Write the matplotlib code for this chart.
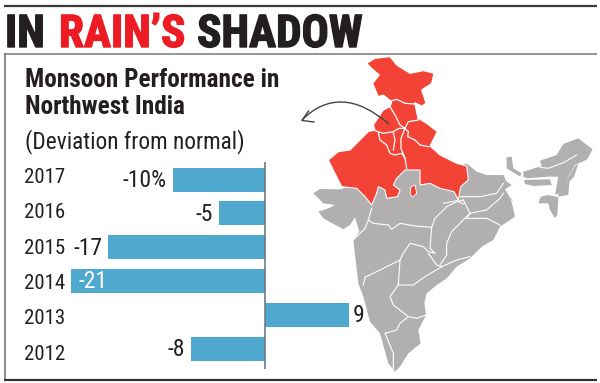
import matplotlib
matplotlib.use("Agg")
import matplotlib.pyplot as plt
import matplotlib.patheffects as pe
from matplotlib.patches import Polygon, PathPatch
from matplotlib.path import Path

# ---- chart data ----
years = ["2017", "2016", "2015", "2014", "2013", "2012"]
deviation = [-10, -5, -17, -21, 9, -8]
value_labels = ["-10%", "-5", "-17", "-21", "9", "-8"]

W, H = 600, 383
COND = ["Roboto Condensed", "DejaVu Sans"]
BLACK = "#231F20"
TITLE_RED = "#ED1C24"
MAP_RED = "#F24336"
MAP_GREY = "#B1AFB0"
BAR = "#4FA8CE"

fig = plt.figure(figsize=(W / 100, H / 100), dpi=100, facecolor="white")

px = fig.add_axes([0, 0, 1, 1])
px.set_xlim(0, W)
px.set_ylim(H, 0)
px.axis("off")

SCALE, ZERO = 9.25, 265.5
STEP, FIRST = 33.8, 179.6
ax = fig.add_axes([0, 0, 1, 1], facecolor="none")
ax.set_xlim(-ZERO / SCALE, (W - ZERO) / SCALE)
ax.set_ylim((H - FIRST) / STEP, -FIRST / STEP)
ax.axis("off")
ax.barh(range(len(years)), deviation, height=24 / STEP, color=BAR, zorder=2)
ax.vlines(0, (162 - FIRST) / STEP, (369 - FIRST) / STEP, color="#6E7B82", lw=1.2, zorder=3)

for i, (v, lab) in enumerate(zip(deviation, value_labels)):
    if v == -21:
        xt, ha, col = 7, "left", "white"
    elif v > 0:
        xt, ha, col = 4, "left", BLACK
    else:
        xt, ha, col = -6, "right", BLACK
    ax.annotate(lab, (v, i), xytext=(xt * 0.72, -1 * 0.72), textcoords="offset points",
                ha=ha, va="center", fontsize=17, color=col, family=COND, zorder=4)

for i, y in enumerate(years):
    px.text(24, 183 + 35.3 * i, y, fontsize=15, color=BLACK, family=COND, va="baseline", ha="left")

px.plot([4, 597], [5.5, 5.5], color="#3A3A3A", lw=1.6, solid_capstyle="butt")
px.plot([4, 597], [53.5, 53.5], color="#8C8C8C", lw=1.3, solid_capstyle="butt")
px.plot([4.5, 4.5], [53, 379], color="#777777", lw=1.2, solid_capstyle="butt")
px.plot([4, 597], [379.5, 379.5], color="#333333", lw=1.6, solid_capstyle="butt")

for s, x, col in [("IN", 5, BLACK), ("RAIN’S", 59, TITLE_RED), ("SHADOW", 197, BLACK)]:
    t = px.text(x, 47, s, fontsize=32.5, fontweight="bold", color=col, family=COND, va="baseline", ha="left")
    t.set_path_effects([pe.withStroke(linewidth=1.0, foreground=col)])

for s, y in [("Monsoon Performance in", 87), ("Northwest India", 114)]:
    px.text(25, y, s, fontsize=18.2, fontweight="bold", color=BLACK, family=COND, va="baseline", ha="left")
px.text(25, 148, "(Deviation from normal)", fontsize=16.8, color=BLACK, family=COND, va="baseline", ha="left")


def z2(pts):
    return [(300 + x / 3, 40 + y / 3) for x, y in pts]

def z3(pts):
    return [(300 + x / 3, 190 + y / 3) for x, y in pts]

def z4(pts):
    return [(325 + x / 3, 90 + y / 3) for x, y in pts]

mainland = z2([(40, 460), (60, 447), (120, 448), (150, 440), (200, 380), (320, 380), (420, 400), (500, 370),
               (530, 395), (560, 405), (610, 405), (620, 425), (635, 435), (615, 448), (640, 490)]) + \
    z3([(630, 15), (645, 80), (600, 110), (580, 150), (545, 170), (510, 205), (470, 230), (440, 265),
        (410, 285), (380, 310), (373, 340), (378, 375), (355, 420), (362, 460), (325, 490),
        (300, 530), (285, 545), (265, 520), (240, 430), (210, 395), (190, 320), (175, 280),
        (160, 150), (178, 125), (165, 82), (150, 105), (130, 118), (70, 85), (55, 65), (85, 55),
        (105, 45), (70, 40)])
ne_arunachal_assam = z2([(670, 395), (725, 378), (720, 362), (770, 345), (790, 312), (835, 295), (878, 328),
                         (862, 358), (825, 375), (810, 400), (800, 420), (775, 460), (765, 465), (775, 410),
                         (745, 410), (680, 415), (670, 410)])
ne_meghalaya = z2([(672, 420), (750, 418), (755, 435), (700, 438), (675, 432)])
ne_east = z2([(812, 400), (825, 378), (835, 372), (822, 410), (808, 425), (805, 465), (775, 470), (775, 440), (800, 420)])
ne_south = z2([(745, 465), (775, 472), (772, 525), (765, 535), (750, 510), (745, 490), (715, 490), (722, 470)])
sikkim = z2([(620, 352), (635, 350), (640, 385), (665, 400), (660, 410), (620, 385)])
for poly in (mainland, ne_arunachal_assam, ne_meghalaya, ne_east, ne_south, sikkim):
    px.add_patch(Polygon(poly, closed=True, fc=MAP_GREY, ec="none", zorder=1))

red_region = z2([(200, 70), (225, 55), (270, 50), (290, 75), (330, 100), (370, 92), (402, 100), (395, 130),
                 (365, 150), (378, 190), (365, 198), (345, 188), (355, 235), (380, 250), (412, 275),
                 (390, 318), (420, 345), (470, 370), (500, 378), (505, 420), (482, 440), (475, 480),
                 (462, 455), (420, 445), (390, 430), (360, 435)]) + \
    z4([(285, 240), (240, 240), (215, 265), (205, 285), (225, 300), (218, 320), (185, 325), (180, 300),
        (160, 290), (155, 310), (140, 345), (120, 320), (95, 295), (50, 290), (30, 250), (10, 210),
        (40, 185), (75, 180), (130, 125), (150, 120), (145, 105), (175, 60), (195, 50), (200, 35),
        (175, 15), (160, 20)]) + \
    z2([(218, 130), (238, 105), (215, 85)])
px.add_patch(Polygon(red_region, closed=True, fc=MAP_RED, ec="white", lw=0.8, joinstyle="round", zorder=2))
px.add_patch(Polygon(z4([(258, 290), (270, 285), (275, 310), (262, 322), (255, 310)]), closed=True,
                     fc=MAP_RED, ec="white", lw=0.6, zorder=2))

red_borders = [
    [(195, 50), (200, 32), (215, 28), (240, 40), (270, 42), (280, 88)],
    [(195, 50), (210, 75), (225, 105), (240, 115)],
    [(240, 115), (250, 95), (280, 90)],
    [(240, 115), (250, 125), (248, 140), (270, 150), (285, 165), (310, 170)],
    [(150, 122), (175, 130), (205, 125), (222, 115), (240, 115)],
    [(160, 128), (165, 150), (185, 165), (195, 190), (210, 195), (230, 190), (240, 205)],
    [(240, 115), (228, 145), (228, 175), (240, 205), (245, 235)],
    [(205, 128), (210, 150), (205, 180)],
]
for b in red_borders:
    xs, ys = zip(*z4(b))
    px.plot(xs, ys, color="white", lw=0.9, zorder=3, solid_joinstyle="round")

borders = [
    [(205, 90), (220, 100), (265, 105), (275, 118), (300, 100), (345, 108), (395, 112)],
    [(215, 55), (205, 90), (195, 115), (170, 140), (160, 150)],
    [(395, 112), (405, 85), (440, 50), (470, 35), (490, 30)],
    [(510, 70), (480, 100), (455, 125), (440, 160), (440, 195), (420, 225)],
    [(395, 112), (390, 175), (405, 190), (385, 185), (370, 170), (330, 160), (310, 190), (300, 210),
     (240, 240), (195, 262), (190, 285)],
    [(385, 190), (410, 225), (425, 230)],
    [(300, 210), (295, 285), (340, 285), (375, 260), (425, 230), (470, 210), (510, 200)],
    [(295, 285), (270, 320), (280, 345), (325, 380), (300, 400), (290, 420), (255, 430)],
    [(325, 380), (350, 385), (378, 375)],
    [(255, 430), (280, 490), (280, 540)],
    [(510, 70), (500, 85), (560, 85), (600, 105)],
    [(510, 70), (560, 60), (600, 25), (610, 10)],
    [(490, 30), (510, 70)],
]
for b in borders:
    xs, ys = zip(*z3(b))
    px.plot(xs, ys, color="white", lw=0.8, zorder=1.5)
borders2 = [
    [(482, 470), (540, 470), (590, 460), (610, 430)],
    [(430, 490), (470, 482), (490, 492)],
    [(720, 382), (745, 385), (790, 368), (830, 345)],
]
for b in borders2:
    xs, ys = zip(*z2(b))
    px.plot(xs, ys, color="white", lw=0.8, zorder=1.5)

curve = Path([(389, 124), (340, 82), (302, 120)], [Path.MOVETO, Path.CURVE3, Path.CURVE3])
px.add_patch(PathPatch(curve, fc="none", ec="#444444", lw=1.0, zorder=5))
px.plot([308.5, 302, 314], [111, 120.5, 122], color="#444444", lw=1.0, zorder=5)

fig.savefig("out.png", dpi=100)
